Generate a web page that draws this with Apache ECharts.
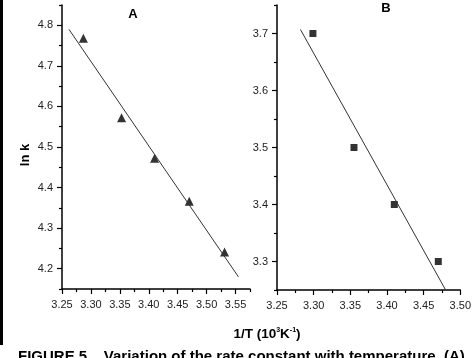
<!DOCTYPE html>
<html>
<head>
<meta charset="utf-8">
<script src="https://cdn.jsdelivr.net/npm/echarts@6/dist/echarts.min.js"></script>
<style>
  html, body { margin: 0; padding: 0; background: #fff; }
  #chart { width: 474px; height: 358px; }
</style>
</head>
<body>
<div id="chart"></div>
<script>
// panel A data (triangles)
const xA = [3.287, 3.353, 3.41, 3.47, 3.531]
const yA = [4.768, 4.572, 4.472, 4.366, 4.241]
const fitA = [[3.262, 4.79], [3.555, 4.18]]
// panel B data (squares)
const xB = [3.299, 3.355, 3.41, 3.47]
const yB = [3.7, 3.5, 3.4, 3.3]
const fitB = [[3.282, 3.707], [3.48, 3.25]]

// tick labels
const xTicksA = [3.25, 3.30, 3.35, 3.40, 3.45, 3.50, 3.55]
const xMinorA = [3.275, 3.325, 3.375, 3.425, 3.475, 3.525, 3.575]
const yTicksA = [4.2, 4.3, 4.4, 4.5, 4.6, 4.7, 4.8]
const yMinorA = [4.15, 4.25, 4.35, 4.45, 4.55, 4.65, 4.75, 4.85]
const xTicksB = [3.25, 3.30, 3.35, 3.40, 3.45, 3.50]
const xMinorB = [3.275, 3.325, 3.375, 3.425, 3.475]
const yTicksB = [3.3, 3.4, 3.5, 3.6, 3.7]
const yMinorB = [3.25, 3.35, 3.45, 3.55, 3.65, 3.75]

const font = 'Liberation Sans, Arial, sans-serif'
const chart = echarts.init(document.getElementById('chart'))

// main axis with labels + major ticks
const mainAxis = (grid, min, max, ticks, digits, isX) => ({
  type: 'value',
  gridIndex: grid,
  min: min,
  max: max,
  splitLine: { show: false },
  axisLine: { show: true, onZero: false, lineStyle: { color: '#000', width: 1.5 } },
  axisTick: { show: true, length: 5, customValues: ticks, lineStyle: { color: '#000', width: 1.2 } },
  axisLabel: {
    customValues: ticks,
    margin: isX ? 10 : 9,
    color: '#222',
    fontFamily: font,
    fontSize: 11,
    formatter: v => v.toFixed(digits)
  }
})

// invisible twin axis that only draws short minor ticks
const minorAxis = (grid, min, max, ticks, pos) => ({
  type: 'value',
  gridIndex: grid,
  position: pos,
  min: min,
  max: max,
  splitLine: { show: false },
  axisLine: { show: false, onZero: false },
  axisTick: { show: true, length: 3, customValues: ticks, lineStyle: { color: '#000', width: 1.2 } },
  axisLabel: { show: false }
})

const option = {
  animation: false,
  grid: [
    { left: 62, top: 5, width: 188, height: 284 },
    { left: 277, top: 5, width: 188, height: 285 }
  ],
  xAxis: [
    mainAxis(0, 3.25, 3.575, xTicksA, 2, true),
    mainAxis(1, 3.25, 3.50, xTicksB, 2, true),
    minorAxis(0, 3.25, 3.575, xMinorA, 'bottom'),
    minorAxis(1, 3.25, 3.50, xMinorB, 'bottom')
  ],
  yAxis: [
    mainAxis(0, 4.15, 4.85, yTicksA, 1, false),
    mainAxis(1, 3.25, 3.75, yTicksB, 1, false),
    minorAxis(0, 4.15, 4.85, yMinorA, 'left'),
    minorAxis(1, 3.25, 3.75, yMinorB, 'left')
  ],
  series: [
    {
      type: 'line',
      xAxisIndex: 0,
      yAxisIndex: 0,
      data: fitA,
      showSymbol: false,
      lineStyle: { color: '#333', width: 1 }
    },
    {
      type: 'scatter',
      xAxisIndex: 0,
      yAxisIndex: 0,
      data: xA.map((x, i) => [x, yA[i]]),
      symbol: 'triangle',
      symbolSize: 9,
      itemStyle: { color: '#000' }
    },
    {
      type: 'line',
      xAxisIndex: 1,
      yAxisIndex: 1,
      data: fitB,
      showSymbol: false,
      lineStyle: { color: '#333', width: 1 }
    },
    {
      type: 'scatter',
      xAxisIndex: 1,
      yAxisIndex: 1,
      data: xB.map((x, i) => [x, yB[i]]),
      symbol: 'rect',
      symbolSize: 7,
      itemStyle: { color: '#000' }
    }
  ],
  graphic: [
    { type: 'rect', left: 0, top: 0, shape: { width: 3, height: 345 }, style: { fill: '#000' } },
    { type: 'text', x: 133, y: 14, style: { text: 'A', font: 'bold 13px ' + font, fill: '#000', align: 'center', verticalAlign: 'middle' } },
    { type: 'text', x: 386, y: 8, style: { text: 'B', font: 'bold 13px ' + font, fill: '#000', align: 'center', verticalAlign: 'middle' } },
    { type: 'text', x: 25, y: 155, rotation: Math.PI / 2, style: { text: 'ln k', font: 'bold 13px ' + font, fill: '#000', align: 'center', verticalAlign: 'middle' } },
    {
      type: 'text', x: 267, y: 334,
      style: {
        text: '1/T (10{s|3}K{s|-1})',
        font: 'bold 13.5px ' + font, fill: '#000', align: 'center', verticalAlign: 'middle',
        rich: { s: { fontSize: 7, fontWeight: 'bold', fontFamily: font, verticalAlign: 'top', padding: [0, 0, 6, 0] } }
      }
    },
    { type: 'text', x: 18, y: 349, style: { text: 'FIGURE 5    Variation of the rate constant with temperature. (A)', font: 'bold 15px ' + font, fill: '#000', align: 'left', verticalAlign: 'top' } }
  ]
}

chart.setOption(option)
</script>
</body>
</html>
